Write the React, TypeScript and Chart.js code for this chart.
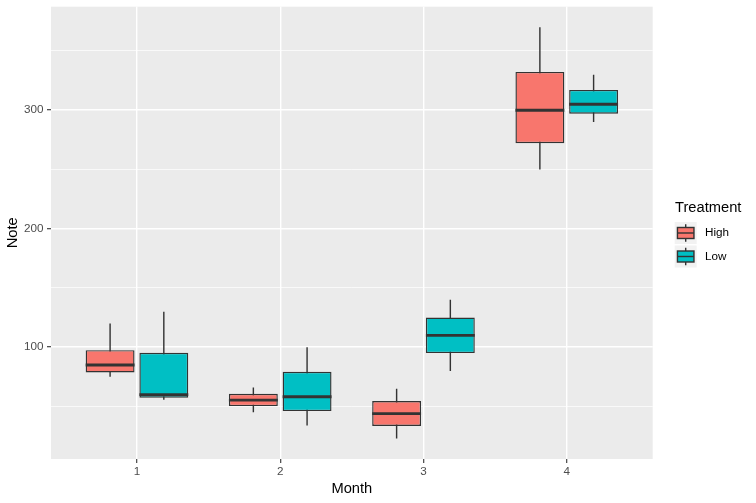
import React, { useEffect, useRef } from 'react';
import { Chart, registerables } from 'chart.js';

Chart.register(...registerables);

// ---- data ----
const months = [1, 2, 3, 4];
const monthLabels = ['1', '2', '3', '4'];
const treatments = ['High', 'Low'];

const highMin = [75, 45, 23, 250];
const highQ1 = [78.7, 50.3, 33.5, 272.2];
const highMedian = [85, 55.3, 44, 300];
const highQ3 = [97.5, 60.7, 54.5, 332.3];
const highMax = [120, 66, 65, 370];

const lowMin = [55.7, 34, 80, 290];
const lowQ1 = [57.4, 46.1, 95, 297.1];
const lowMedian = [60, 58.2, 110, 305];
const lowQ3 = [95.3, 79.3, 125, 317.1];
const lowMax = [130, 100, 140, 330];

const yTickValues = [50, 100, 150, 200, 250, 300, 350];
const yTickLabels = ['', '100', '', '200', '', '300', ''];

// ---- styles ----
const FONT = '"Liberation Sans", Arial, Helvetica, sans-serif';
const HIGH_COLOR = '#F8766D';
const LOW_COLOR = '#00BFC4';
const LINE_COLOR = '#333333';
const PANEL_BG = '#EBEBEB';

const allLow = [...highMin, ...lowMin];
const allHigh = [...highMax, ...lowMax];
const dataMin = Math.min(...allLow);
const dataMax = Math.max(...allHigh);
const expand = (dataMax - dataMin) * 0.05;

const panelPlugin = {
  id: 'ggPanel',
  beforeDraw(chart: any) {
    const { ctx, chartArea } = chart;
    ctx.save();
    ctx.fillStyle = PANEL_BG;
    ctx.fillRect(chartArea.left, chartArea.top, chartArea.right - chartArea.left, chartArea.bottom - chartArea.top);
    ctx.restore();
  },
};

const medianPlugin = {
  id: 'ggMedian',
  afterDatasetsDraw(chart: any) {
    const { ctx } = chart;
    const yScale = chart.scales.y;
    [highMedian, lowMedian].forEach((med, di) => {
      const meta = chart.getDatasetMeta(di);
      meta.data.forEach((el: any, j: number) => {
        const { x, width } = el.getProps(['x', 'width'], true);
        const py = yScale.getPixelForValue(med[j]);
        ctx.save();
        ctx.beginPath();
        ctx.moveTo(x - width / 2, py);
        ctx.lineTo(x + width / 2, py);
        ctx.lineWidth = 2.85;
        ctx.strokeStyle = LINE_COLOR;
        ctx.stroke();
        ctx.restore();
      });
    });
  },
};

const legendPlugin = {
  id: 'ggLegend',
  afterDraw(chart: any) {
    const { ctx, chartArea } = chart;
    const x0 = chartArea.right + 22.3;
    ctx.save();
    ctx.fillStyle = '#000000';
    ctx.font = `14.7px ${FONT}`;
    ctx.textBaseline = 'middle';
    ctx.textAlign = 'left';
    ctx.fillText('Treatment', x0, 208);
    const colors = [HIGH_COLOR, LOW_COLOR];
    const ks = 22;
    treatments.forEach((t, i) => {
      const kx = x0 - 0.3;
      const ky = 222 + i * 23.5;
      ctx.fillStyle = '#F2F2F2';
      ctx.fillRect(kx, ky, ks, ks);
      const cx = kx + ks / 2;
      ctx.strokeStyle = LINE_COLOR;
      ctx.lineWidth = 1.42;
      ctx.beginPath();
      ctx.moveTo(cx, ky + ks * 0.1);
      ctx.lineTo(cx, ky + ks * 0.25);
      ctx.moveTo(cx, ky + ks * 0.75);
      ctx.lineTo(cx, ky + ks * 0.9);
      ctx.stroke();
      ctx.fillStyle = colors[i];
      ctx.fillRect(kx + ks * 0.125, ky + ks * 0.25, ks * 0.75, ks * 0.5);
      ctx.strokeRect(kx + ks * 0.125, ky + ks * 0.25, ks * 0.75, ks * 0.5);
      ctx.beginPath();
      ctx.moveTo(kx + ks * 0.125, ky + ks * 0.5);
      ctx.lineTo(kx + ks * 0.875, ky + ks * 0.5);
      ctx.stroke();
      ctx.fillStyle = '#000000';
      ctx.font = `11.7px ${FONT}`;
      ctx.fillText(t, x0 + 30, ky + ks / 2);
    });
    ctx.restore();
  },
};

export default function App() {
  const canvasRef = useRef<HTMLCanvasElement | null>(null);

  useEffect(() => {
    const canvas = canvasRef.current;
    if (!canvas) return;

    const boxCommon = {
      type: 'bar' as const,
      borderColor: LINE_COLOR,
      borderWidth: 1.42,
      borderSkipped: false,
      categoryPercentage: 0.75,
      barPercentage: 0.91,
      order: 1,
    };
    const whiskerCommon = {
      type: 'bar' as const,
      backgroundColor: LINE_COLOR,
      borderWidth: 0,
      categoryPercentage: 0.75,
      barPercentage: 0.91,
      maxBarThickness: 1.42,
      order: 2,
    };

    const chart = new Chart(canvas, {
      type: 'bar',
      data: {
        datasets: [
          {
            ...boxCommon,
            label: 'High',
            stack: 'High',
            backgroundColor: HIGH_COLOR,
            data: months.map((m, i) => ({ x: m, y: [highQ1[i], highQ3[i]] })) as any,
          },
          {
            ...boxCommon,
            label: 'Low',
            stack: 'Low',
            backgroundColor: LOW_COLOR,
            data: months.map((m, i) => ({ x: m, y: [lowQ1[i], lowQ3[i]] })) as any,
          },
          {
            ...whiskerCommon,
            label: 'High whisker',
            stack: 'High',
            data: months.map((m, i) => ({ x: m, y: [highMin[i], highMax[i]] })) as any,
          },
          {
            ...whiskerCommon,
            label: 'Low whisker',
            stack: 'Low',
            data: months.map((m, i) => ({ x: m, y: [lowMin[i], lowMax[i]] })) as any,
          },
        ] as any,
      },
      options: {
        animation: false,
        responsive: false,
        devicePixelRatio: 1,
        layout: { padding: { left: 0, right: 103.3, top: 6.7, bottom: 0 } },
        plugins: {
          legend: { display: false },
          tooltip: { enabled: false },
        },
        scales: {
          x: {
            type: 'linear',
            min: 0.4,
            max: 4.6,
            offset: false,
            stacked: true,
            afterBuildTicks: (scale: any) => {
              scale.ticks = months.map((v) => ({ value: v }));
            },
            afterFit: (scale: any) => {
              scale.height = 44;
              scale.paddingLeft = 0;
              scale.paddingRight = 0;
            },
            grid: {
              offset: false,
              color: '#FFFFFF',
              lineWidth: 1.42,
              drawTicks: true,
              tickLength: 4,
              tickColor: LINE_COLOR,
              tickWidth: 1.1,
            },
            border: { display: false },
            ticks: {
              autoSkip: false,
              maxRotation: 0,
              padding: 1.5,
              color: '#4D4D4D',
              font: { family: FONT, size: 11.7 },
              callback: (v: any) => {
                const idx = months.indexOf(Number(v));
                return idx >= 0 ? monthLabels[idx] : '';
              },
            },
            title: {
              display: true,
              text: 'Month',
              color: '#000000',
              font: { family: FONT, size: 14.7 },
              padding: { top: 0, bottom: 5.5 },
            },
          },
          y: {
            type: 'linear',
            min: dataMin - expand,
            max: dataMax + expand,
            beginAtZero: false,
            stacked: false,
            afterBuildTicks: (scale: any) => {
              scale.ticks = yTickValues.map((v) => ({ value: v }));
            },
            afterFit: (scale: any) => {
              scale.width = 51;
              scale.paddingTop = 0;
              scale.paddingBottom = 0;
            },
            grid: {
              color: '#FFFFFF',
              lineWidth: (ctx: any) => (yTickLabels[yTickValues.indexOf(ctx.tick?.value)] ? 1.42 : 0.71),
              drawTicks: true,
              tickLength: 4,
              tickColor: (ctx: any) =>
                yTickLabels[yTickValues.indexOf(ctx.tick?.value)] ? LINE_COLOR : 'rgba(0,0,0,0)',
              tickWidth: 1.1,
            },
            border: { display: false },
            ticks: {
              autoSkip: false,
              padding: 3.5,
              color: '#4D4D4D',
              font: { family: FONT, size: 11.7 },
              callback: (v: any) => {
                const idx = yTickValues.indexOf(Number(v));
                return idx >= 0 ? yTickLabels[idx] : '';
              },
            },
            title: {
              display: true,
              text: 'Note',
              color: '#000000',
              font: { family: FONT, size: 14.7 },
              padding: { top: 4, bottom: 0 },
            },
          },
        },
      } as any,
      plugins: [panelPlugin, medianPlugin, legendPlugin],
    });

    return () => {
      chart.destroy();
    };
  }, []);

  return (
    <div style={{ position: 'fixed', left: 0, top: 0, width: 756, height: 503, background: '#FFFFFF' }}>
      <canvas ref={canvasRef} width={756} height={503} style={{ display: 'block', width: 756, height: 503 }} />
    </div>
  );
}
